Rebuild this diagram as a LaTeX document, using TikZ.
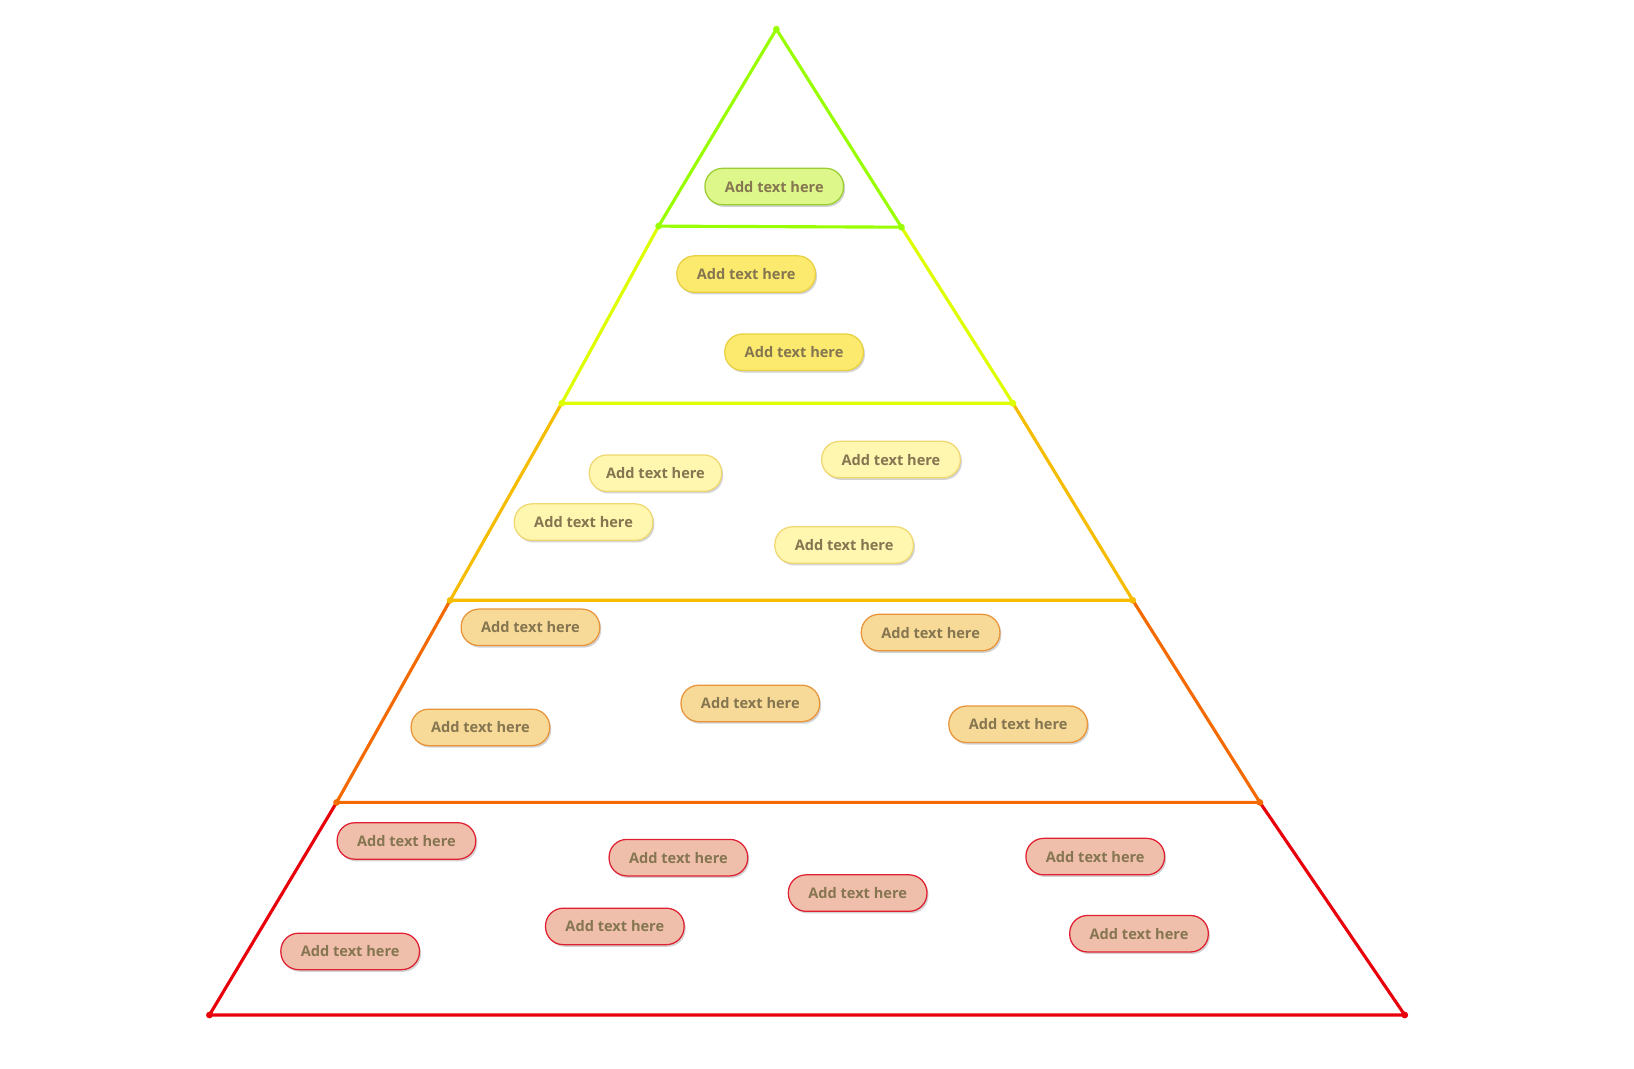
\documentclass[tikz,border=0pt]{standalone}
\usepackage{fontspec}
\setmainfont{Open Sans}
\usetikzlibrary{shadows}
\definecolor{cA}{HTML}{99FF00}\definecolor{cB}{HTML}{DDFF00}\definecolor{cC}{HTML}{F5BC00}
\definecolor{cD}{HTML}{F56A00}\definecolor{cE}{HTML}{E8000A}
\definecolor{tx}{HTML}{857550}
\tikzset{
 tb/.style={rounded corners=17pt,minimum width=133pt,minimum height=35pt,line width=1.2pt,
   font=\bfseries\fontsize{14}{16}\selectfont,text=tx,inner sep=0pt,
   drop shadow={shadow xshift=1.5pt,shadow yshift=-2pt,opacity=0.35}},
 gA/.style={tb,fill={rgb,255:red,221;green,247;blue,138},draw={rgb,255:red,154;green,205;blue,50}},
 gB/.style={tb,fill={rgb,255:red,251;green,234;blue,110},draw={rgb,255:red,232;green,208;blue,64}},
 gC/.style={tb,fill={rgb,255:red,255;green,246;blue,176},draw={rgb,255:red,240;green,216;blue,112}},
 gD/.style={tb,fill={rgb,255:red,247;green,218;blue,151},draw={rgb,255:red,232;green,148;blue,58}},
 gE/.style={tb,fill={rgb,255:red,240;green,191;blue,172},draw={rgb,255:red,224;green,32;blue,48}},
 ln/.style={line width=3pt},
 dt/.style={circle,inner sep=0pt,minimum size=6.5pt}
}
\begin{document}
\begin{tikzpicture}[x=1pt,y=-1pt]
\useasboundingbox (0,0) rectangle (1568,1025);
\coordinate (p0) at (745,28);
\coordinate (l1) at (632,217);\coordinate (r1) at (865,218);
\coordinate (l2) at (539,387);\coordinate (r2) at (972,387);
\coordinate (l3) at (432,576);\coordinate (r3) at (1087,576);
\coordinate (l4) at (323,770);\coordinate (r4) at (1209,770);
\coordinate (l5) at (201,974);\coordinate (r5) at (1348,974);
\draw[ln,cA] (l1)--(p0)--(r1)--cycle;
\draw[ln,cB] (l1)--(l2)--(r2)--(r1);
\draw[ln,cC] (l2)--(l3)--(r3)--(r2);
\draw[ln,cD] (l3)--(l4)--(r4)--(r3);
\draw[ln,cE] (l4)--(l5)--(r5)--(r4);
\foreach \c/\col in {p0/cA,l1/cA,r1/cA,l2/cB,r2/cB,l3/cC,r3/cC,l4/cD,r4/cD,l5/cE,r5/cE}
  \node[dt,fill=\col] at (\c) {};
\node[gA] (a1) at (743,179) {Add text here};
\node[gB] (b1) at (716,263) {Add text here};
\node[gB] (b2) at (762,338) {Add text here};
\node[gC,minimum width=127pt] (c1) at (629,454) {Add text here};
\node[gC] (c2) at (855,441) {Add text here};
\node[gC] (c3) at (560,501) {Add text here};
\node[gC] (c4) at (810,523) {Add text here};
\node[gD] (d1) at (509,602) {Add text here};
\node[gD] (d2) at (893,607) {Add text here};
\node[gD] (d3) at (720,675) {Add text here};
\node[gD] (d4) at (461,698) {Add text here};
\node[gD] (d5) at (977,695) {Add text here};
\node[gE] (e1) at (390,807) {Add text here};
\node[gE] (e2) at (651,823) {Add text here};
\node[gE] (e3) at (1051,822) {Add text here};
\node[gE] (e4) at (823,857) {Add text here};
\node[gE] (e5) at (590,889) {Add text here};
\node[gE] (e6) at (336,913) {Add text here};
\node[gE] (e7) at (1093,896) {Add text here};
\end{tikzpicture}
\end{document}
